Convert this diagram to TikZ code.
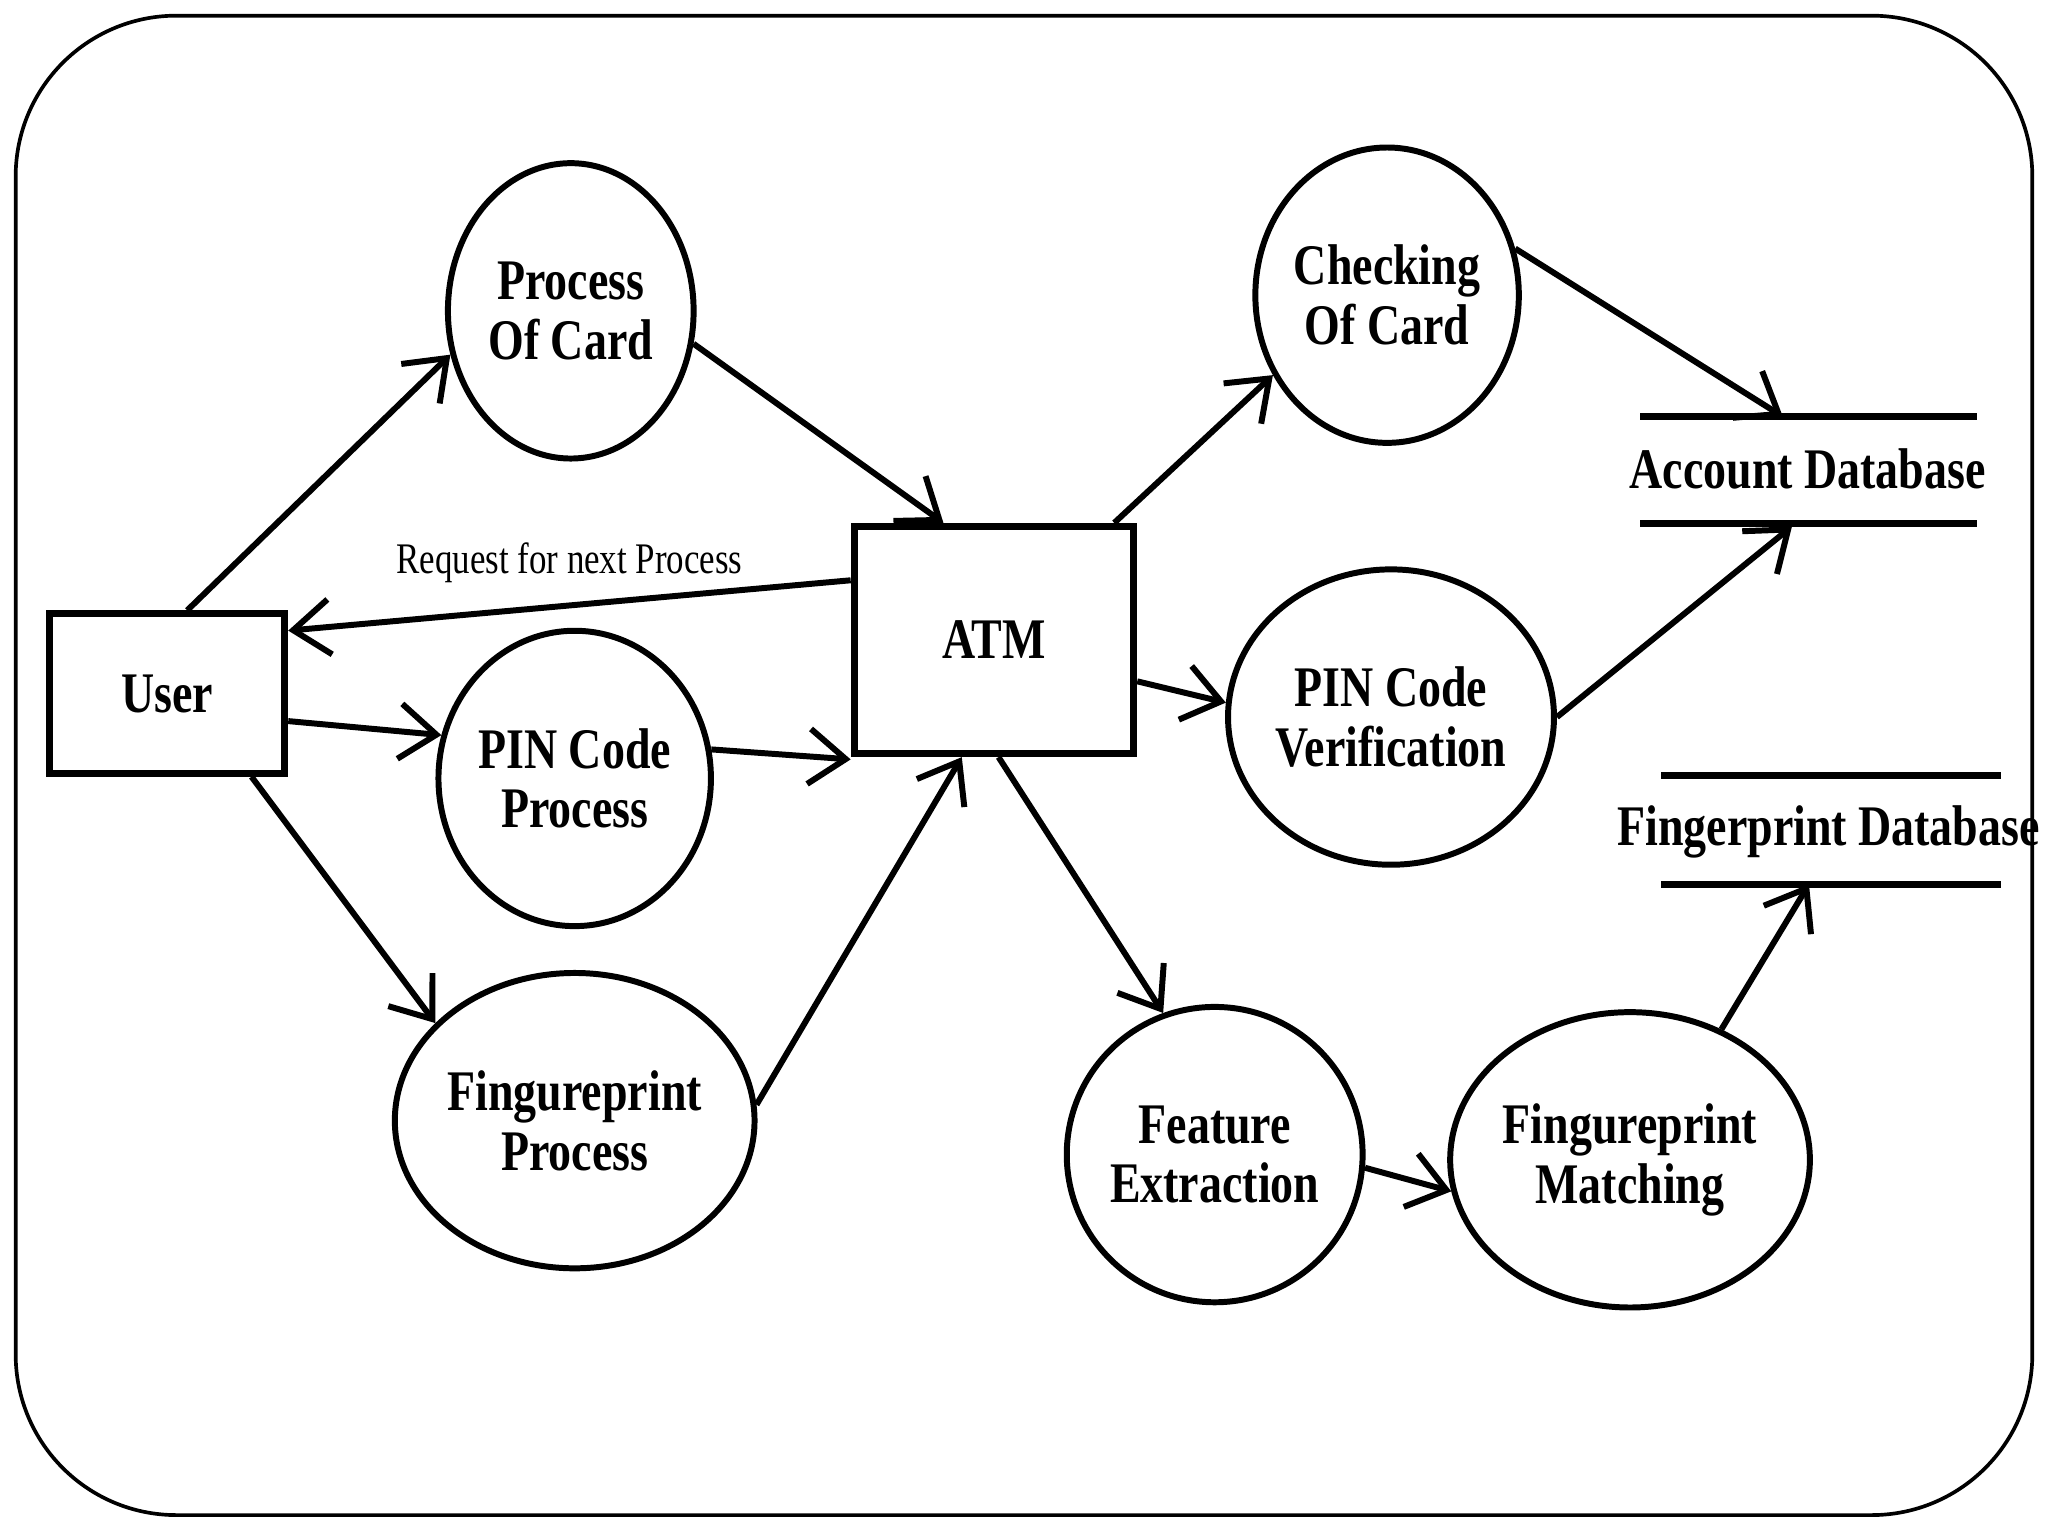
\documentclass[tikz,border=0pt]{standalone}
\usepackage{fontspec}
\setmainfont{Liberation Serif}[FakeStretch=0.8]
\usetikzlibrary{arrows.meta,shapes.geometric}
\begin{document}
\begin{tikzpicture}[x=0.01cm,y=-0.01cm,
  proc/.style={draw,line width=1.3pt,ellipse,minimum width=1.88cm,minimum height=2.26cm,inner sep=0pt,align=center,font=\bfseries\fontsize{12.5}{13}\selectfont},
  box/.style={draw,line width=1.5pt,inner sep=0pt,font=\bfseries\fontsize{12.5}{13}\selectfont},
  flow/.style={line width=1.3pt,-{Straight Barb[length=8pt,width=12pt]}},
  dbl/.style={line width=1.5pt},
  dbt/.style={font=\bfseries\fontsize{12.5}{13}\selectfont}]
\useasboundingbox (0,0) rectangle (1568,1176);
\draw[line width=0.8pt,rounded corners=35] (12,12) rectangle (1556,1160);
\node[box,minimum width=1.8cm,minimum height=1.22cm] (user) at (128,531) {User};
\node[box,minimum width=2.14cm,minimum height=1.74cm] (atm) at (761,490) {ATM};
\node[proc] (poc) at (437,238) {Process\\Of Card};
\node[proc] (pcp) at (440,596) {PIN Code\\Process};
\node[proc] (fpp) at (440,858) {Fingureprint\\Process};
\node[proc] (chk) at (1062,226) {Checking\\Of Card};
\node[proc] (pcv) at (1065,549) {PIN Code\\Verification};
\node[proc] (fe) at (930,884) {Feature\\Extraction};
\node[proc,minimum width=1.8cm] (fm) at (1248,888) {Fingureprint\\Matching};
\draw[dbl] (1256,319) -- (1514,319) (1256,401) -- (1514,401);
\node[dbt] (adb) at (1384,359) {Account Database};
\node[dbt] (fdb) at (1400,637) {Fingerprint Database};
\draw[dbl] (1272,594) -- (1532,594) (1272,677) -- (1532,677);
\coordinate (adbt) at (1365,319);
\coordinate (adbb) at (1372,403);
\coordinate (fdbb) at (1385,677);
\draw[flow] ([xshift=-22pt]user.north east) -- (poc.200);
\draw[flow] (poc.-15) -- ([xshift=-11pt]atm.north);
\draw[flow] ([yshift=13pt]atm.west) -- node[above,pos=0.5,font=\fontsize{9.5}{10}\selectfont,yshift=1pt]{Request for next Process} ([yshift=13.7pt]user.east);
\draw[flow] ([yshift=-6pt]user.east) -- (pcp.162);
\draw[flow] (pcp.12) -- ([yshift=-26pt]atm.west);
\draw[flow] ([xshift=-8pt]user.south east) -- (fpp.145);
\draw[flow] (fpp.5) -- ([xshift=-7pt]atm.south);
\draw[flow] ([xshift=-5pt]atm.north east) -- (chk.215);
\draw[flow] (chk.20) -- (adbt);
\draw[flow] ([yshift=-9pt]atm.east) -- (pcv.175);
\draw[flow] (pcv.0) -- (adbb);
\draw[flow] ([xshift=1pt]atm.south) -- (fe.110);
\draw[flow] (fe.-5) -- (fm.190);
\draw[flow] (fm.55) -- (fdbb);
\end{tikzpicture}
\end{document}
